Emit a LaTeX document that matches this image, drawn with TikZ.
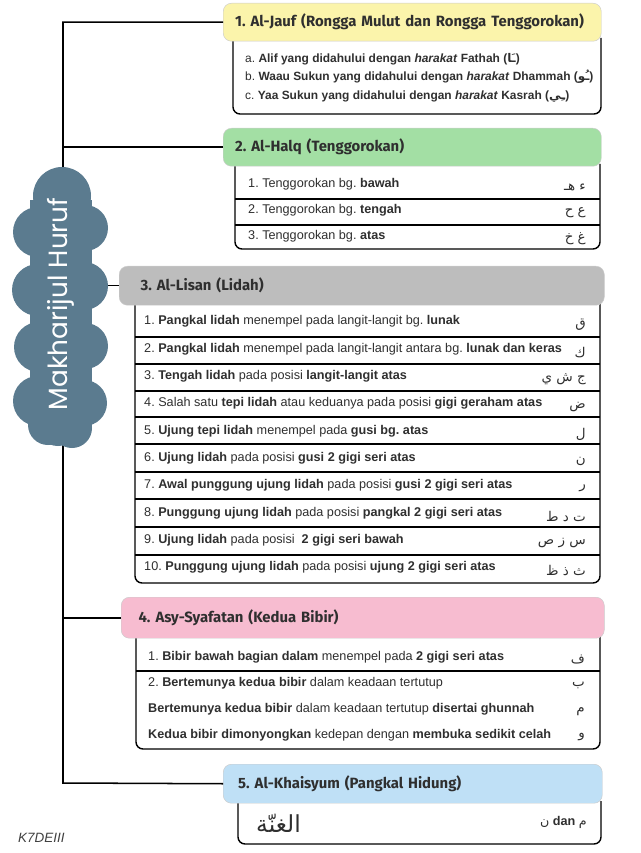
\documentclass[tikz,border=0pt]{standalone}
\usepackage{fontspec}
\setmainfont{Liberation Sans}
\newfontfamily\headfont{Fira Sans}
\newfontfamily\cloudfont{Poppins}
\newfontfamily\arabicfont[Script=Arabic]{DejaVu Sans}
\TeXXeTstate=1
\frenchspacing
\usetikzlibrary{positioning}
\definecolor{txt}{HTML}{2F2F2F}
\definecolor{jauf}{HTML}{FBF4AB}
\definecolor{halq}{HTML}{A3DFA4}
\definecolor{lisan}{HTML}{BDBDBD}
\definecolor{syaf}{HTML}{F7BCD0}
\definecolor{khai}{HTML}{BFE0F6}
\definecolor{cloudcol}{HTML}{5B7B8F}
\newcommand{\ar}[1]{{\arabicfont\beginR #1\endR}}
\tikzset{
  hdr/.style={rectangle,rounded corners=7pt,draw=black!20,anchor=north west,inner xsep=0.36cm,inner ysep=0pt,align=left,text=txt,font=\headfont\bfseries\fontsize{12.7}{14}\selectfont},
  frame/.style={line width=1.2pt,rounded corners=6pt,fill=white},
  sep/.style={line width=1.2pt},
  conn/.style={line width=1.3pt},
  row/.style={anchor=west,inner sep=0pt,text height=0.75em,text depth=0.25em,text=txt,font=\fontsize{10.8}{13}\selectfont},
  arl/.style={anchor=east,inner sep=0pt,text=txt,font=\fontsize{11.5}{13}\selectfont},
}
\begin{document}
\begin{tikzpicture}[x=0.03cm,y=-0.03cm]
  \useasboundingbox (0,0) rectangle (640,853);
  % frames under the headers
  \draw[frame] (233,38) -- (233,114) -- (601,114) -- (601,38);
  \draw[frame] (235,164) -- (235,249) -- (600,249) -- (600,164);
  \draw[frame] (135,303) -- (135,583) -- (600,583) -- (600,303);
  \draw[frame] (136,636) -- (136,749) -- (600,749) -- (600,636);
  \draw[frame] (238,801) -- (238,844) -- (601,844) -- (601,801);
  \foreach \y in {199,225} \draw[sep] (235,\y) -- (600,\y);
  \foreach \y in {337,364,391,417,444,472,499,527,555} \draw[sep] (135,\y) -- (600,\y);
  \draw[sep] (136,671) -- (600,671);

  \node[hdr,fill=jauf,minimum height=1.14cm,text width=10.62cm] (h1) at (223,3) {1. Al-Jauf (Rongga Mulut dan Rongga Tenggorokan)};
  \node[hdr,fill=halq,minimum height=1.14cm,text width=10.62cm] (h2) at (223,128) {2. Al-Halq (Tenggorokan)};
  \node[hdr,fill=lisan,minimum height=1.17cm,inner xsep=0.64cm,text width=13.27cm] (h3) at (119,266) {3. Al-Lisan (Lidah)};
  \node[hdr,fill=syaf,minimum height=1.23cm,inner xsep=0.52cm,text width=13.45cm] (h4) at (121,597) {4. Asy-Syafatan (Kedua Bibir)};
  \node[hdr,fill=khai,minimum height=1.17cm,inner xsep=0.45cm,text width=10.47cm] (h5) at (223,764) {5. Al-Khaisyum (Pangkal Hidung)};

  \coordinate (tb) at (63,783);
  \draw[conn] (h1.west) -| (tb) -- (h5.west);
  \foreach \h in {h2,h3,h4} \draw[conn] (\h.west) -- (\h.west -| tb);

  % cloud
  \fill[cloudcol] (30,200) rectangle (92,430);
  \foreach \cx/\cy/\r in {62/196/29,38/232/25,85/228/23,38/290/26,84/286/24,39/347/25,85/346/23,38/401/25,84/403/23,58/424/22,48/425/20,72/428/20}
    \fill[cloudcol] (\cx,\cy) circle[radius=\r*0.03cm];
  \node[rotate=90,text=white,font=\cloudfont\fontsize{22.5}{24}\selectfont] (title) at (61,304) {Makharijul Huruf};

  % Al-Jauf
  \node[row,font=\bfseries\fontsize{10.2}{12}\selectfont] (j1) at (245,60) {\mdseries a. \bfseries Alif yang didahului dengan \textit{harakat} Fathah (\ar{ـَا})};
  \node[row,font=\bfseries\fontsize{10.2}{12}\selectfont] (j2) at (245,78) {\mdseries b. \bfseries Waau Sukun yang didahului dengan \textit{harakat} Dhammah (\ar{ـُو})};
  \node[row,font=\bfseries\fontsize{10.2}{12}\selectfont] (j3) at (245,97) {\mdseries c. \bfseries Yaa Sukun yang didahului dengan \textit{harakat} Kasrah (\ar{ـِي})};

  % Al-Halq
  \foreach \n/\t/\a in {1/bawah/ء هـ,2/tengah/ع ح,3/atas/غ خ}{
    \node[row] (hq\n) at (248,{185+26*(\n-1)}) {\n. Tenggorokan bg. \textbf{\t}};
    \node[arl] (hqar\n) at (586,{187+26*(\n-1)}) {\ar{\a}};
  }

  % Al-Lisan
  \foreach \n/\t/\a in {
    1/{1. \textbf{Pangkal lidah} menempel pada langit-langit bg. \textbf{lunak}}/ق,
    2/{2. \textbf{Pangkal lidah} menempel pada langit-langit antara bg. \textbf{lunak dan keras}}/ك,
    3/{3. \textbf{Tengah lidah} pada posisi \textbf{langit-langit atas}}/ج ش ي,
    4/{4. Salah satu \textbf{tepi lidah} atau keduanya pada posisi \textbf{gigi geraham atas}}/ض,
    5/{5. \textbf{Ujung tepi lidah} menempel pada \textbf{gusi bg. atas}}/ل,
    6/{6. \textbf{Ujung lidah} pada posisi \textbf{gusi 2 gigi seri atas}}/ن,
    7/{7. \textbf{Awal punggung ujung lidah} pada posisi \textbf{gusi 2 gigi seri atas}}/ر,
    8/{8. \textbf{Punggung ujung lidah} pada posisi \textbf{pangkal 2 gigi seri atas}}/ت د ط,
    9/{9. \textbf{Ujung lidah} pada posisi \ \textbf{2 gigi seri bawah}}/س ز ص,
    10/{10. \textbf{Punggung ujung lidah} pada posisi \textbf{ujung 2 gigi seri atas}}/ث ذ ظ}{
    \node[row] (ls\n) at (144,{322+27.3*(\n-1)}) {\t};
    \node[arl] (lsar\n) at (586,{325+27.3*(\n-1)}) {\ar{\a}};
  }

  % Asy-Syafatan
  \foreach \n/\t/\a in {
    1/{1. \textbf{Bibir bawah bagian dalam} menempel pada \textbf{2 gigi seri atas}}/ف,
    2/{2. \textbf{Bertemunya kedua bibir} dalam keadaan tertutup}/ب,
    3/{\textbf{Bertemunya kedua bibir} dalam keadaan tertutup \textbf{disertai ghunnah}}/م,
    4/{\textbf{Kedua bibir dimonyongkan} kedepan dengan \textbf{membuka sedikit celah}}/و}{
    \node[row] (sy\n) at (148,{658+25.8*(\n-1)}) {\t};
    \node[arl] (syar\n) at (585,{660+25.8*(\n-1)}) {\ar{\a}};
  }

  % Al-Khaisyum
  \node[anchor=west,inner sep=0pt,text=txt,font=\fontsize{20}{22}\selectfont] (gh) at (256,823) {\ar{الغنّة}};
  \node[arl,font=\fontsize{10.8}{13}\selectfont] (nm) at (587,822) {\ar{ن} \textbf{dan} \ar{م}};

  \node[anchor=west,inner sep=0pt,text=black!75,font=\itshape\fontsize{11.5}{13}\selectfont] (sig) at (18,838) {K7DEIII};
\end{tikzpicture}
\end{document}
